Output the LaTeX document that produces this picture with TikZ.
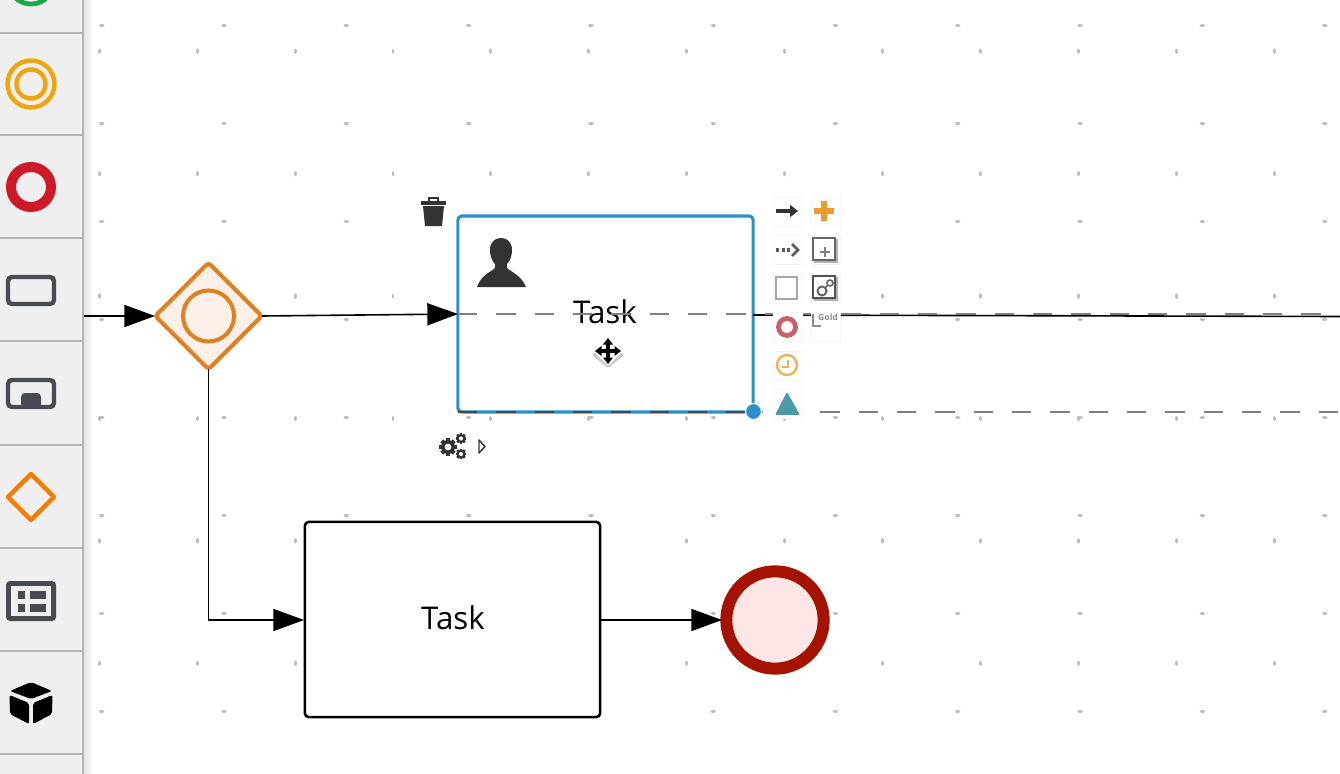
\documentclass[tikz,border=0pt]{standalone}
\usepackage{fontspec}
\setmainfont{Open Sans}
\usetikzlibrary{arrows.meta,calc,shadings}
\definecolor{barbg}{HTML}{EFEFEF}
\definecolor{barline}{HTML}{B4B4B4}
\definecolor{griddot}{HTML}{BDBDBD}
\definecolor{icondark}{HTML}{474C52}
\definecolor{selblue}{HTML}{2B8FC9}
\definecolor{gwline}{HTML}{E0801F}
\definecolor{gwfill}{HTML}{FDF0E8}
\definecolor{endline}{HTML}{A31300}
\definecolor{endfill}{HTML}{FCE6E6}
\definecolor{guide}{HTML}{7F7F7F}
\definecolor{palborder}{HTML}{F6F6F6}
\definecolor{dark}{HTML}{333333}
\definecolor{startgreen}{HTML}{1DA84A}
\definecolor{interyellow}{HTML}{F0A50A}
\definecolor{endred}{HTML}{CE1A28}
\definecolor{gateorange}{HTML}{F57C00}
\definecolor{palorange}{HTML}{E89B32}
\definecolor{palred}{HTML}{C8606A}
\definecolor{palclock}{HTML}{F0B056}
\definecolor{palteal}{HTML}{4A9AA8}
\tikzset{
  x=0.75pt,y=-0.75pt,
  flow/.style={draw=black,line width=1.2pt,-{Triangle[length=23pt,width=16.5pt]}},
  plainflow/.style={draw=black,line width=1.2pt},
  taskbox/.style={draw=black,line width=1.9pt,rounded corners=3pt,fill=white},
  guideline/.style={draw=guide,line width=1pt,dash pattern=on 14.4pt off 14.35pt},
  tasklabel/.style={font=\fontsize{23.5}{28}\selectfont,text=black,inner sep=0pt},
  griddotstyle/.style={griddot,line width=2.2pt,line cap=round},
  palcell/.style={draw=palborder,line width=.5pt,fill=white},
}
\newcommand{\gearshape}[3]{% x y radius
  \draw[dark,line width=#3*0.5pt] (#1,#2) circle[radius=#3];
  \foreach \a in {0,45,...,315}
    \draw[dark,line width=#3*0.55pt] ($(#1,#2)+(\a:#3*1.05)$) -- ($(#1,#2)+(\a:#3*1.6)$);
}
\begin{document}
\begin{tikzpicture}
\useasboundingbox (0,0) rectangle (1340,774);
\fill[white] (0,0) rectangle (1340,774);
% ---- dot grid
\foreach \k in {0,...,10}
  \foreach \r in {0,...,7}
    \draw[griddotstyle] ({101.7+122.3*\k-1.2},{25.7+98*\r}) -- ++(2.4,0);
\foreach \k in {0,...,12}
  \foreach \r in {0,...,5}
    \draw[griddotstyle] ({99.3+97.9*\k},{51.3+122.4*\r-1.2}) -- ++(0,2.4);
% ---- side bar
\shade[left color=black!12,right color=white] (83,0) rectangle (94,774);
\fill[barbg] (0,0) rectangle (83,774);
\draw[barline,line width=1.2pt] (83,0) -- (83,774);
\foreach \y in {33,135,238,341,445,548,651,754}
  \draw[barline,line width=1.2pt] (0,\y) -- (83,\y);
% green event, cut by the top edge
\begin{scope}
\clip (0,0) rectangle (83,33);
\draw[startgreen,line width=3.6pt,fill=white] (31,-19) circle[radius=23];
\end{scope}
% intermediate event
\draw[interyellow,line width=3.3pt] (31,84) circle[radius=23.5];
\draw[interyellow,line width=3.3pt] (31,84) circle[radius=14.5];
% end event
\draw[endred,line width=7.5pt] (31,187) circle[radius=20];
% task
\draw[icondark,line width=3.3pt,rounded corners=3pt] (8,277) rectangle (54,304);
% sub process
\draw[icondark,line width=3.3pt,rounded corners=3pt] (8,380) rectangle (54,407);
\fill[icondark,rounded corners=3pt] (21,408) -- (21,393) -- (41,393) -- (41,408) -- cycle;
% gateway
\draw[gateorange,line width=3.2pt,line join=round] (31,474) -- (54,497) -- (31,520) -- (8,497) -- cycle;
% form
\fill[icondark,rounded corners=3pt] (6,581) rectangle (56,621);
\fill[barbg] (11,586) rectangle (51,616);
\fill[icondark] (18,591) rectangle (25,599);
\fill[icondark] (18,604) rectangle (25,612);
\fill[icondark] (30,591) rectangle (46,599);
\fill[icondark] (30,604) rectangle (46,612);
% cube
\fill[black,rounded corners=1.5pt] (31,682) -- (52,691) -- (31,699) -- (10,691) -- cycle;
\fill[black,rounded corners=1.5pt] (9.5,695) -- (29,703) -- (29,724) -- (10,714) -- cycle;
\fill[black,rounded corners=1.5pt] (52.5,695) -- (33,703) -- (33,724) -- (52,714) -- cycle;
% ---- named nodes
\node[draw=gwline,fill=gwfill,line width=3.1pt,shape=rectangle,rotate=45,minimum size=56.5pt,rounded corners=2.5pt,inner sep=0pt,outer sep=0pt] (gw) at (208.5,316) {};
\draw[gwline,line width=3pt] (208.5,316) circle[radius=25.5];
\coordinate (startL) at (84,316);
\node[taskbox,minimum width=221.5pt,minimum height=146.5pt,inner sep=0pt] (task2) at (452.5,619.5) {};
\node[tasklabel] at (453,617.5) {Task};
\node[draw=endline,fill=endfill,line width=9pt,circle,minimum size=73pt,inner sep=0pt] (end) at (775,620) {};
\coordinate (gwE) at (262,316);
\coordinate (gwW) at (155,316);
\coordinate (gwS) at (208.5,369);
\node[draw=selblue,fill=white,line width=2.3pt,rounded corners=3pt,minimum width=221.5pt,minimum height=147pt,inner sep=0pt] (task1) at (605.5,314) {};
\coordinate (t1W) at (458,314);
\coordinate (t1E) at (753,315);
\coordinate (farE) at (1340,316.5);
\coordinate (t2W) at (304,620);
\coordinate (t2E) at (601,620);
\coordinate (endW) at (722,620);
% ---- flows
\draw[flow] (startL) -- (gwW);
\draw[flow] (gwE) -- (t1W);
\draw[flow] (gwS) |- (t2W);
\draw[flow] (t2E) -- (endW);
\draw[plainflow] (t1E) -- (farE);
% ---- text and person in the selected task
\node[tasklabel] (task1label) at (605,312) {Task};
\fill[dark] (477,287) .. controls (481,275) and (491,272) .. (495,268)
  -- (495,264) .. controls (491,260) and (490,254) .. (490,250)
  .. controls (490,242) and (495,238) .. (501,238)
  .. controls (507,238) and (512,242) .. (512,250)
  .. controls (512,254) and (511,260) .. (507,264)
  -- (507,268) .. controls (511,272) and (521,275) .. (526,287) -- cycle;
% ---- guides
\coordinate (guideA) at (458,314);
\coordinate (guideB) at (1340,314);
\coordinate (guideC) at (458,412);
\coordinate (guideD) at (1340,412);
\draw[guideline] (guideA) -- (guideB);
\draw[draw=dark!90,line width=1pt,dash pattern=on 14.4pt off 14.35pt] (guideC) -- (753,412);
\draw[guideline,dash phase=7pt] (753,412) -- (guideD);
% ---- trash
\fill[dark] (421,201) rectangle (446,205);
\draw[dark,line width=1pt] (429,201) -- (429,198) -- (438,198) -- (438,201);
\fill[dark] (423,206) -- (444,206) -- (442,226) -- (425,226) -- cycle;
% ---- palette
\foreach \x/\y in {773/197,773/235,773/274,773/312,773/351,773/389,811/197,811/235,811/274,811/312}
  \draw[palcell] (\x,\y) rectangle ++(29,29);
\draw[dark,line width=2.4pt,-{Triangle[length=6pt,width=9pt]}] (776,211) -- (798,211);
\draw[palorange,line width=3.8pt] (824,201) -- (824,221) (814,211) -- (834,211);
\draw[black!65,line width=2.4pt,dash pattern=on 2.6pt off 1.6pt] (776,250) -- (790,250);
\draw[black!65,line width=2pt] (792,244) -- (798,250) -- (792,256);
\draw[black!30,line width=1.4pt] (815,240) rectangle (837,262);
\draw[black!60,line width=1.3pt,fill=white] (813,238) rectangle (835,260);
\draw[black!50,line width=.8pt] (825,247) -- (825,257) (820,252) -- (830,252);
\draw[black!35,line width=1.7pt] (776,277) rectangle (797,299);
\draw[black!30,line width=1.4pt] (815,278) rectangle (837,300);
\draw[dark!85,line width=1.7pt,fill=white] (813,276) rectangle (835,298);
\draw[black!60,line width=1.5pt] (822,291) circle[radius=4.5];
\draw[black!60,line width=1.2pt] (830,283) circle[radius=3];
\draw[black!60,line width=1.2pt] (825,288) -- (828,285);
\draw[black!45,line width=2pt] (821,326) -- (813,326) -- (813,314);
\node[inner sep=0pt,text=black!45,font=\fontsize{6.5}{7}\selectfont\bfseries] (gold) at (828,317) {Gold};
\draw[palred,line width=3.6pt] (787,327) circle[radius=8.5];
\draw[palclock,line width=1.8pt] (787,365) circle[radius=10];
\draw[palclock,line width=1.4pt] (788,360) -- (788,367) -- (782,367);
\fill[palteal,rounded corners=1pt] (775,415) -- (787,392) -- (800,415) -- cycle;
% ---- resize handle
\fill[selblue,draw=white,line width=.8pt] (753.5,411.5) circle[radius=8];
% ---- gears and small triangle
\gearshape{448}{447}{5.5}
\gearshape{461}{438.5}{3.4}
\gearshape{461}{454}{3.4}
\draw[dark,line width=1.1pt,line join=round] (479,440) -- (485,446.5) -- (479,453) -- cycle;
% ---- move cursor
\fill[black!22,rounded corners=1pt] (608,339) -- (624,355) -- (608,368) -- (592,355) -- cycle;
\fill[white,rounded corners=1pt] (608,336) -- (623,351) -- (608,366) -- (593,351) -- cycle;
\draw[black,line width=3pt] (608,342) -- (608,360) (599,351) -- (617,351);
\fill[black] (608,338) -- (613,344.5) -- (603,344.5) -- cycle;
\fill[black] (608,364) -- (613,357.5) -- (603,357.5) -- cycle;
\fill[black] (595,351) -- (601.5,346) -- (601.5,356) -- cycle;
\fill[black] (621,351) -- (614.5,346) -- (614.5,356) -- cycle;
\end{tikzpicture}
\end{document}
